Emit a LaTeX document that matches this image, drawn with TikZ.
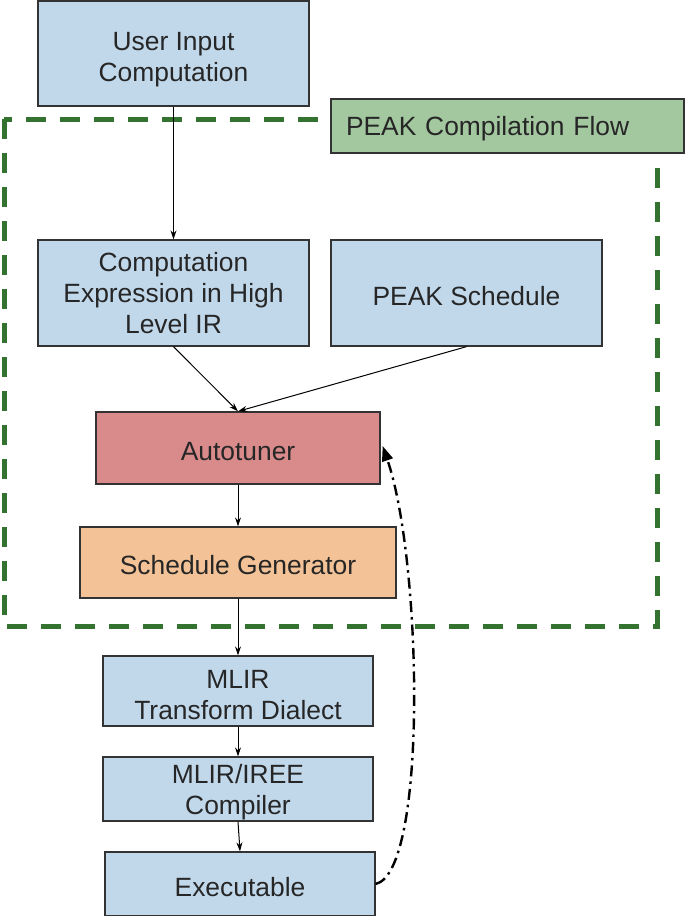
\documentclass[tikz,border=0pt]{standalone}
\usepackage{fontspec}
\setmainfont{Liberation Sans}
\usetikzlibrary{arrows.meta}
\definecolor{boxblue}{HTML}{C1D8EB}
\definecolor{labgreen}{HTML}{A3C8A0}
\definecolor{dashgreen}{HTML}{34722F}
\definecolor{autored}{HTML}{D98B8B}
\definecolor{genorange}{HTML}{F3C397}
\definecolor{edgegray}{HTML}{333333}
\definecolor{txt}{HTML}{262626}
\tikzset{
  box/.style={draw=edgegray, line width=1.3pt, align=center, inner sep=0pt,
    text=txt, font=\fontsize{26.4}{31}\selectfont,
    execute at begin node={\rule{0pt}{25pt}}},
  bluebox/.style={box, fill=boxblue},
  flow/.style={draw=black, line width=1pt, -{Stealth[length=9pt,width=6pt]}},
  feedback/.style={draw=black, line width=2.4pt, dash pattern=on 11pt off 5pt on 2.5pt off 5pt,
    -{Triangle[length=15pt,width=11pt]}},
  region/.style={draw=dashgreen, line width=5pt, dash pattern=on 20pt off 14pt}
}
\newcommand{\lowfirst}{\rule{0pt}{30pt}}
\begin{document}
\begin{tikzpicture}[x=1pt,y=-1pt]
\useasboundingbox (0,0) rectangle (685,916);
% dashed region
\draw[region] (4,119) rectangle (657,626);
% nodes
\node[bluebox, minimum width=271, minimum height=105] (user) at (173.5,53.5) {\lowfirst User Input\\Computation};
\node[box, fill=labgreen, minimum height=54, text width=323, inner xsep=15pt, align=left] (label) at (507.5,126) {PEAK Compilation Flow};
\node[bluebox, minimum width=271, minimum height=106] (comp) at (173.5,293) {Computation\\Expression in High\\Level IR};
\node[bluebox, minimum width=271, minimum height=106] (sched) at (466.5,293) {PEAK Schedule};
\node[box, fill=autored, minimum width=284, minimum height=72] (auto) at (238,448) {Autotuner};
\node[box, fill=genorange, minimum width=316, minimum height=71] (gen) at (238,562.5) {Schedule Generator};
\node[bluebox, minimum width=270, minimum height=70] (mlir) at (238,691) {\rule{0pt}{26pt}MLIR\\Transform Dialect};
\node[bluebox, minimum width=270, minimum height=64] (iree) at (238,789) {\rule{0pt}{26pt}MLIR/IREE\\Compiler};
\node[bluebox, minimum width=270, minimum height=64] (exec) at (240,884) {Executable};
% connectors
\draw[flow] (user.south) -- (comp.north);
\draw[flow] (comp.south) -- (auto.north);
\draw[flow] (sched.south) -- (auto.north);
\draw[flow] (auto.south) -- (gen.north);
\draw[flow] (gen.south) -- (mlir.north);
\draw[flow] (mlir.south) -- (iree.north);
\draw[flow] (iree.south) -- (exec.north);
\draw[feedback] (exec.east) .. controls (428,872) and (422,560) .. ([xshift=2pt,yshift=2pt]auto.east);
\end{tikzpicture}
\end{document}
